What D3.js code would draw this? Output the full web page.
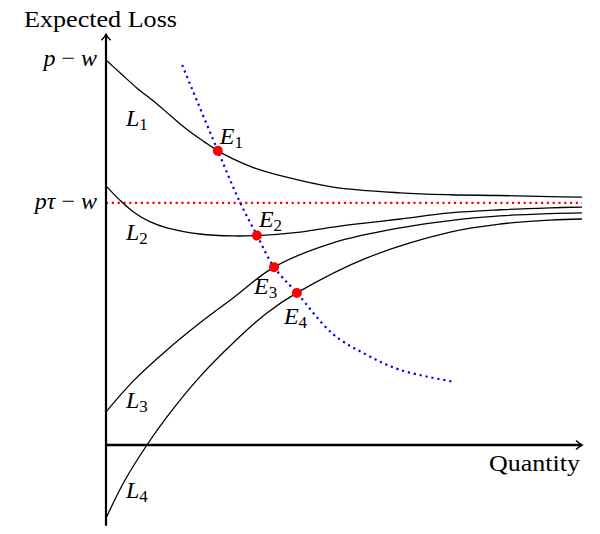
<!DOCTYPE html>
<html><head><meta charset="utf-8">
<script src="https://cdn.jsdelivr.net/npm/d3@7"></script>
<style>body{margin:0;background:#fff} svg text{font-family:'Liberation Serif','Times New Roman','DejaVu Serif',serif}</style>
</head><body>
<svg id="c" width="600" height="534"></svg>
<script>
// ---- data (quantity on x, expected loss on y; p - w = 1) ----
const L1x = [0, 0.31, 0.66, 1.01, 1.36, 1.71, 2.06, 2.35, 2.76, 3.11, 3.75, 4.77, 6.18, 7.23, 8.28, 9.33, 10];
const L1y = [1.000, 0.965, 0.926, 0.892, 0.855, 0.819, 0.788, 0.764, 0.738, 0.720, 0.697, 0.670, 0.655, 0.650, 0.648, 0.645, 0.644];
const L2x = [0, 0.29, 0.57, 0.92, 1.28, 1.97, 2.67, 3.17, 4.08, 4.77, 5.48, 6.18, 7.23, 8.28, 9.33, 10];
const L2y = [0.673, 0.636, 0.606, 0.580, 0.564, 0.548, 0.543, 0.544, 0.553, 0.566, 0.577, 0.587, 0.603, 0.611, 0.616, 0.618];
const L3x = [0, 0.57, 1.28, 1.97, 2.67, 3.53, 4.77, 6.18, 7.23, 8.28, 9.33, 10];
const L3y = [0.086, 0.166, 0.247, 0.317, 0.382, 0.462, 0.525, 0.564, 0.583, 0.595, 0.601, 0.603];
const L4x = [0, 0.40, 0.86, 1.28, 1.97, 2.67, 3.38, 4.01, 5.48, 7.23, 8.28, 9.33, 10];
const L4y = [-0.190, -0.091, 0, 0.073, 0.177, 0.265, 0.343, 0.395, 0.486, 0.553, 0.574, 0.584, 0.587];
const locusX = [1.60, 2.35, 2.82, 3.17, 3.53, 4.01, 4.77, 5.48, 6.18, 7.31];
const locusY = [0.987, 0.764, 0.629, 0.545, 0.462, 0.395, 0.288, 0.234, 0.195, 0.164];
const eqX = [2.35, 3.17, 3.53, 4.01];
const eqY = [0.764, 0.544, 0.462, 0.395];
const eqNames = ["E1", "E2", "E3", "E4"];
const curveNames = ["L1", "L2", "L3", "L4"];
const curveLabelY = [0.829, 0.532, 0.096, -0.138];
const yTickValues = [1, 0.629];
const yTickLabels = ["p − w", "pτ − w"];
const xMax = 10, yMin = -0.21, yMax = 1.067;
const yTitle = "Expected Loss", xTitle = "Quantity";

// ---- drawing ----
const svg = d3.select("#c");
const x = d3.scaleLinear().domain([0, xMax]).range([106, 582]);
const y = d3.scaleLinear().domain([0, 1]).range([445, 60]);
const serif = "'Liberation Serif', 'Times New Roman', 'DejaVu Serif', serif";

// red dotted p*tau - w line
svg.append("line")
  .attr("x1", x(0)).attr("x2", x(xMax))
  .attr("y1", y(yTickValues[1])).attr("y2", y(yTickValues[1]))
  .attr("stroke", "#ff0000").attr("stroke-width", 2.2)
  .attr("stroke-dasharray", "2.2 3.6");

// curves
const line = d3.line().x(d => x(d[0])).y(d => y(d[1])).curve(d3.curveCatmullRom.alpha(0.5));
[[L1x, L1y], [L2x, L2y], [L3x, L3y], [L4x, L4y]].forEach(([xs, ys]) => {
  svg.append("path").datum(xs.map((v, i) => [v, ys[i]]))
    .attr("d", line).attr("fill", "none")
    .attr("stroke", "#000").attr("stroke-width", 1.3);
});

// blue dotted locus
svg.append("path").datum(locusX.map((v, i) => [v, locusY[i]]))
  .attr("d", line).attr("fill", "none")
  .attr("stroke", "#0000ff").attr("stroke-width", 2.2)
  .attr("stroke-dasharray", "2.2 3.8");

// axes
svg.append("line").attr("x1", x(0)).attr("x2", x(0))
  .attr("y1", y(yMin)).attr("y2", y(yMax)).attr("stroke", "#000").attr("stroke-width", 2.2);
svg.append("line").attr("x1", x(0)).attr("x2", x(xMax))
  .attr("y1", y(0)).attr("y2", y(0)).attr("stroke", "#000").attr("stroke-width", 2.7);
const arrow = "M-6,-4.5 Q-2.5,-1.2 0,0 Q-2.5,1.2 -6,4.5";
svg.append("path").attr("d", arrow)
  .attr("transform", `translate(${x(0)},${y(yMax)}) rotate(-90)`)
  .attr("fill", "none").attr("stroke", "#000").attr("stroke-width", 1.5);
svg.append("path").attr("d", arrow)
  .attr("transform", `translate(${x(xMax)},${y(0)})`)
  .attr("fill", "none").attr("stroke", "#000").attr("stroke-width", 1.5);

// equilibrium points
svg.selectAll("circle.eq").data(eqX).enter().append("circle")
  .attr("cx", (d) => x(d)).attr("cy", (d, i) => y(eqY[i]))
  .attr("r", 5).attr("fill", "#ff0000");

// axis titles
svg.append("text").attr("x", 24).attr("y", 27).text(yTitle)
  .attr("font-family", serif).attr("font-size", 23)
  .attr("textLength", 153).attr("lengthAdjust", "spacingAndGlyphs");
svg.append("text").attr("x", x(xMax) - 2).attr("y", y(0) + 26).text(xTitle)
  .attr("text-anchor", "end").attr("font-family", serif).attr("font-size", 23)
  .attr("textLength", 91).attr("lengthAdjust", "spacingAndGlyphs");

// y tick labels (math)
yTickLabels.forEach((lab, i) => {
  const parts = lab.split(" − ");
  const t = svg.append("text").attr("x", x(0) - 9).attr("y", y(yTickValues[i]) + 6)
    .attr("text-anchor", "end").attr("font-family", serif).attr("font-size", 24);
  t.append("tspan").attr("font-style", "italic").text(parts[0]);
  t.append("tspan").text(" − ");
  t.append("tspan").attr("font-style", "italic").text(parts[1]);
});

// subscripted labels
function subLabel(px, py, name) {
  const t = svg.append("text").attr("x", px).attr("y", py)
    .attr("font-family", serif).attr("font-size", 24);
  t.append("tspan").attr("font-style", "italic").text(name[0]);
  t.append("tspan").attr("font-size", 17).attr("dy", 4).text(name.slice(1));
}
curveNames.forEach((n, i) => subLabel(x(0) + 20, y(curveLabelY[i]), n));
const eqOffsets = [[2, -7], [2, -9], [-20, 27], [-13, 31]];
eqNames.forEach((n, i) => subLabel(x(eqX[i]) + eqOffsets[i][0], y(eqY[i]) + eqOffsets[i][1], n));
</script></body></html>
